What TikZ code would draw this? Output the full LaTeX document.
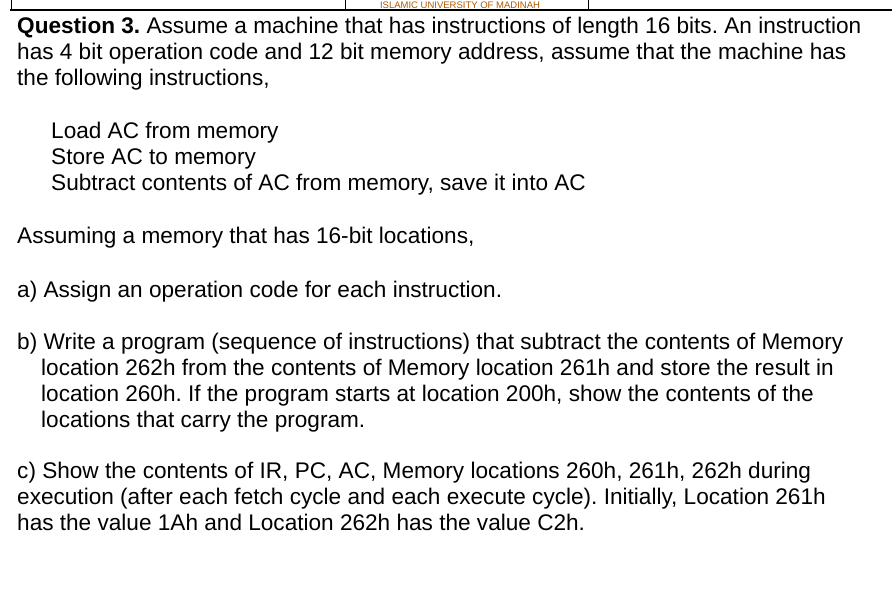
\documentclass[tikz,border=0pt]{standalone}
\usepackage{fontspec}
\setmainfont{Liberation Sans}
\begin{document}
\frenchspacing
\begin{tikzpicture}[x=1pt,y=-1pt,
  ln/.style={anchor=base west,inner sep=0pt,font=\fontsize{22.6}{24}\selectfont}]
\useasboundingbox (0,0) rectangle (892,600);
\fill[white] (0,0) rectangle (892,600);
\draw[line width=1.6pt] (10,10) -- (892,10);
\draw[line width=0.8pt] (11,0) -- (11,10) (345,0) -- (345,10) (588,0) -- (588,10);
\node[anchor=center,inner sep=0pt,text=orange!70!black,font=\fontsize{9.5}{10}\selectfont] (hdr) at (460,5) {ISLAMIC UNIVERSITY OF MADINAH};
\node[ln] (l1) at (17,33) {\textbf{Question 3.} Assume a machine that has instructions of length 16 bits. An instruction};
\node[ln] (l2) at (17,59) {has 4 bit operation code and 12 bit memory address, assume that the machine has};
\node[ln] (l3) at (17,85) {the following instructions,};
\node[ln] (i1) at (51,138) {Load AC from memory};
\node[ln] (i2) at (51,164) {Store AC to memory};
\node[ln] (i3) at (51,190) {Subtract contents of AC from memory, save it into AC};
\node[ln] (m) at (17,243) {Assuming a memory that has 16-bit locations,};
\node[ln] (a) at (17,297) {a) Assign an operation code for each instruction.};
\node[ln] (b1) at (17,349) {b) Write a program (sequence of instructions) that subtract the contents of Memory};
\node[ln] (b2) at (41,375) {location 262h from the contents of Memory location 261h and store the result in};
\node[ln] (b3) at (41,401) {location 260h. If the program starts at location 200h, show the contents of the};
\node[ln] (b4) at (41,427) {locations that carry the program.};
\node[ln] (c1) at (17,478) {c) Show the contents of IR, PC, AC, Memory locations 260h, 261h, 262h during};
\node[ln] (c2) at (17,504) {execution (after each fetch cycle and each execute cycle). Initially, Location 261h};
\node[ln] (c3) at (17,530) {has the value 1Ah and Location 262h has the value C2h.};
\end{tikzpicture}
\end{document}
